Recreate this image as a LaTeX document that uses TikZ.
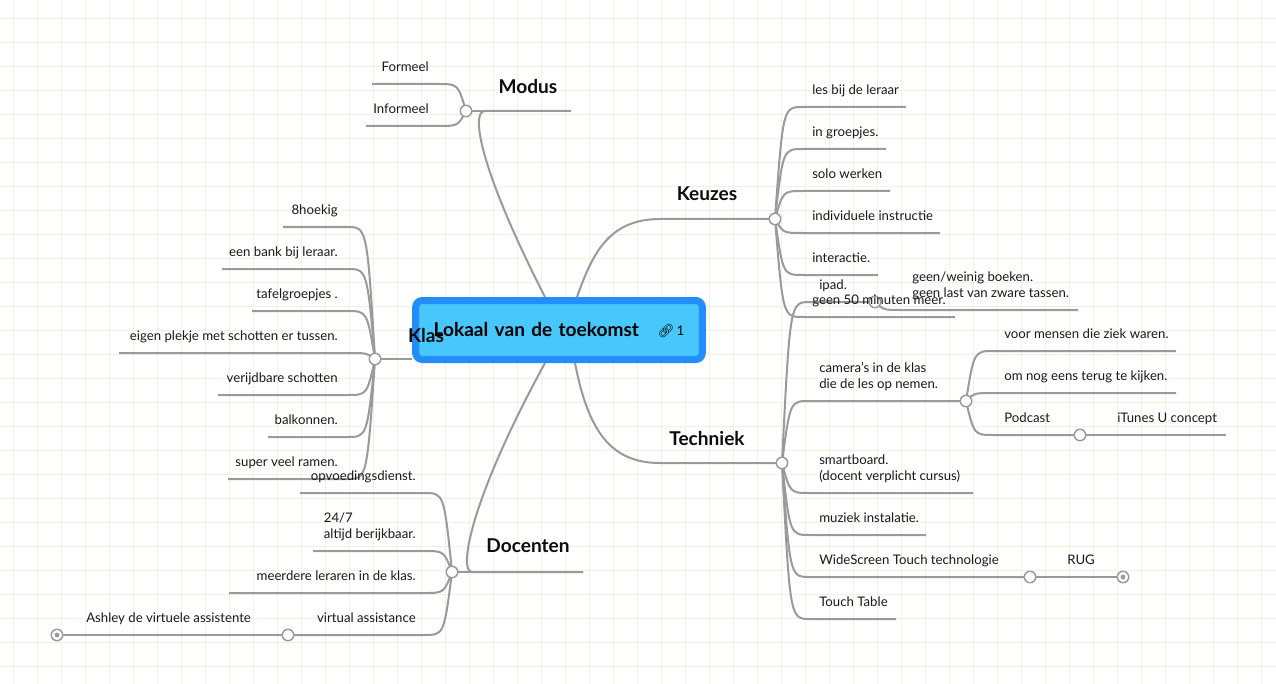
\documentclass[tikz,border=0pt]{standalone}
\usepackage{fontspec}
\setmainfont{Lato}
\newfontfamily\emojifont{Noto Emoji}
\usetikzlibrary{calc,backgrounds}
\definecolor{gridgreen}{HTML}{EEF3E6}
\definecolor{linegray}{HTML}{9A9A9A}
\definecolor{mapblue}{HTML}{238EFA}
\definecolor{mapsky}{HTML}{47C7FB}
\tikzstyle{mapline} = [draw=linegray, line width=1.5pt]
\tikzstyle{knob} = [circle, draw=linegray, fill=white, line width=1.1pt, minimum size=8.6pt, inner sep=0pt]
\tikzstyle{endknob} = [knob, path picture={\fill[linegray] (path picture bounding box.center) circle (1.8pt);}]
\tikzstyle{leaf} = [font=\fontsize{9.9}{12}\selectfont, inner sep=0pt, align=left, text=black!90]
\tikzstyle{topic} = [font=\fontsize{14.3}{16}\selectfont\bfseries, inner sep=0pt, text=black!95]
\tikzstyle{central} = [draw=mapblue, fill=mapsky, line width=5.25pt, rounded corners=5pt, minimum width=215pt, minimum height=44.25pt, text width=188pt, align=left, inner sep=0pt, font=\fontsize{14.3}{16}\selectfont\bfseries]

\begin{document}
\begin{tikzpicture}[x=0.75pt, y=-0.75pt]
    \useasboundingbox (0,0) rectangle (1276,684);
    % squared paper first
    \begin{pgfonlayer}{background}
        \fill[white] (0,0) rectangle (1276,684);
        \foreach \gx in {13,37,...,1261}
            \draw[gridgreen, line width=0.6pt] (\gx,0) -- (\gx,684);
        \foreach \gy in {18,42,...,666}
            \draw[gridgreen, line width=0.6pt] (0,\gy) -- (1276,\gy);
    \end{pgfonlayer}

    % the central topic and the main branches
    \node[central] (lokaal) at (559,330) {\raisebox{-0.5pt}{Lokaal van de toekomst}\hfill{\normalfont\fontsize{9.9}{12}\selectfont{\emojifont 🔗}\,1}};

    \foreach \pos/ \name in {{(466,111)/modusknob},{(775,219)/keuzesknob},{(782,463)/techniekknob},{(452,572)/docentenknob},{(375,359)/klasknob},{(875,302)/ipadknob},{(966,401)/cameraknob},{(1080,435)/podcastknob},{(1030,577)/widescreenknob},{(288,635)/virtualknob}}
        \node[knob] (\name) at \pos {};
    \foreach \pos/ \name in {{(57,635)/ashleyend},{(1123,577)/rugend}}
        \node[endknob] (\name) at \pos {};

    \node[topic] (modus) at (528,86) {Modus};
    \node[topic] (keuzes) at (707,194) {Keuzes};
    \node[topic] (techniek) at (707,438) {Techniek};
    \node[topic] (docenten) at (528,546) {Docenten};
    \node[topic] (klas) at (426,335) {Klas};

    \coordinate (modustail) at (571,111);
    \coordinate (docententail) at (583,572);
    \begin{pgfonlayer}{background}
        \path[mapline] ($(lokaal.north)+(-14,0)$) .. controls (480,170) and (470,111) .. (485,111) -- (modustail);
        \path[mapline] (modusknob.center) -- (modustail);
        \path[mapline] ($(lokaal.north)+(18,0)$) .. controls (592,255) and (608,219) .. (660,219) -- (keuzesknob.center);
        \path[mapline] ($(lokaal.south)+(16,0)$) .. controls (588,430) and (610,463) .. (660,463) -- (techniekknob.center);
        \path[mapline] ($(lokaal.south)+(-14,0)$) .. controls (470,500) and (458,572) .. (472,572) -- (docententail);
        \path[mapline] (docentenknob.center) -- (docententail);
        \path[mapline] (klasknob.center) -- (klasknob.center -| lokaal.west);
    \end{pgfonlayer}

    % Modus
    \foreach \ty/ \sx/ \txt [count=\i] in {84/372/Formeel, 126/366/Informeel} {
        \node[leaf, anchor=south east] (modus\i) at (429,\ty-7) {\txt\strut};
        \coordinate (modustail\i) at (\sx,\ty);
        \begin{pgfonlayer}{background}
            \path[mapline] (modusknob.center) .. controls (458,\ty) .. (438,\ty) -- (modustail\i);
        \end{pgfonlayer}
    }

    % Keuzes
    \foreach \ty/ \ex/ \txt [count=\i] in {107/906/{les bij de leraar}, 149/886/{in groepjes.}, 191/890/{solo werken}, 233/940/{individuele instructie}, 275/878/{interactie.}, 317/955/{geen 50 minuten meer.}} {
        \node[leaf, anchor=south west] (keuze\i) at (812,\ty-7) {\txt\strut};
        \coordinate (keuzetail\i) at (\ex,\ty);
        \begin{pgfonlayer}{background}
            \path[mapline] (keuzesknob.center) .. controls (783,\ty) .. (803,\ty) -- (keuzetail\i);
        \end{pgfonlayer}
    }

    % Techniek
    \foreach \ty/ \ex/ \txt [count=\i] in {302/875/{ipad.}, 401/966/{camera{\char"27}s in de klas\\die de les op nemen.}, 493/973/{smartboard.\\(docent verplicht cursus)}, 535/926/{muziek instalatie.}, 577/1030/{WideScreen Touch technologie}, 619/896/{Touch Table}} {
        \node[leaf, anchor=south west] (techniek\i) at (819,\ty-7) {\txt\strut};
        \coordinate (techniektail\i) at (\ex,\ty);
        \begin{pgfonlayer}{background}
            \path[mapline] (techniekknob.center) .. controls (790,\ty) .. (810,\ty) -- (techniektail\i);
        \end{pgfonlayer}
    }

    % ipad
    \node[leaf, anchor=south west] (boeken) at (912,303) {geen/weinig boeken.\\geen last van zware tassen.\strut};
    \coordinate (boekentail) at (1078,310);

    % camera's in de klas
    \foreach \ty/ \ex/ \txt [count=\i] in {351/1176/{voor mensen die ziek waren.}, 393/1176/{om nog eens terug te kijken.}, 435/1080/{Podcast}} {
        \node[leaf, anchor=south west] (camera\i) at (1004,\ty-7) {\txt\strut};
        \coordinate (cameratail\i) at (\ex,\ty);
        \begin{pgfonlayer}{background}
            \path[mapline] (cameraknob.center) .. controls (974,\ty) .. (994,\ty) -- (cameratail\i);
        \end{pgfonlayer}
    }
    \node[leaf, anchor=south west] (itunes) at (1117,428) {iTunes U concept\strut};
    \coordinate (itunestail) at (1226,435);
    \node[leaf, anchor=south west] (rug) at (1067,570) {RUG\strut};

    % Docenten
    \foreach \ty/ \sx/ \txt [count=\i] in {493/300/{opvoedingsdienst.}, 551/313/{24/7\\altijd berijkbaar.}, 593/229/{meerdere leraren in de klas.}, 635/288/{virtual assistance}} {
        \node[leaf, anchor=south east] (docent\i) at (416,\ty-7) {\txt\strut};
        \coordinate (docenttail\i) at (\sx,\ty);
        \begin{pgfonlayer}{background}
            \path[mapline] (docentenknob.center) .. controls (444,\ty) .. (424,\ty) -- (docenttail\i);
        \end{pgfonlayer}
    }
    \node[leaf, anchor=south west] (ashley) at (86,628) {Ashley de virtuele assistente\strut};

    % Klas
    \foreach \ty/ \sx/ \txt [count=\i] in {227/283/{8hoekig}, 269/222/{een bank bij leraar.}, 311/252/{tafelgroepjes .}, 353/119/{eigen plekje met schotten er tussen.}, 395/218/{verijdbare schotten}, 437/268/{balkonnen.}, 479/228/{super veel ramen.}} {
        \node[leaf, anchor=south east] (klas\i) at (338,\ty-7) {\txt\strut};
        \coordinate (klastail\i) at (\sx,\ty);
        \begin{pgfonlayer}{background}
            \path[mapline] (klasknob.center) .. controls (367,\ty) .. (347,\ty) -- (klastail\i);
        \end{pgfonlayer}
    }

    % the straight follow-ups
    \begin{pgfonlayer}{background}
        \path[mapline] (ipadknob.center) .. controls (883,310) .. (903,310) -- (boekentail);
        \path[mapline] (podcastknob.center) -- (itunestail);
        \path[mapline] (widescreenknob.center) -- (rugend.center);
        \path[mapline] (virtualknob.center) -- (ashleyend.center);
    \end{pgfonlayer}
\end{tikzpicture}
\end{document}
